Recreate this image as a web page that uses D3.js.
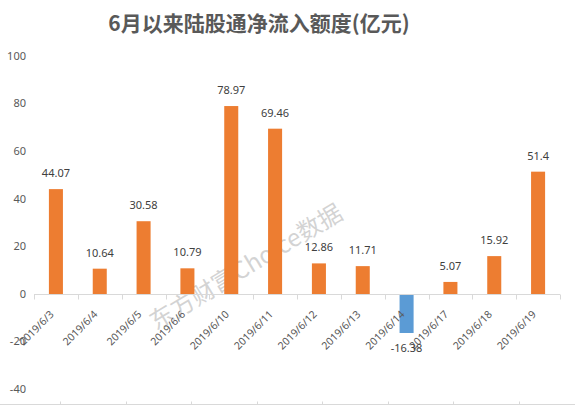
<!DOCTYPE html>
<html>
<head>
<meta charset="utf-8">
<script src="https://cdn.jsdelivr.net/npm/d3@7"></script>
<style>
  body { margin: 0; background: #fff; }
  svg { display: block; }
</style>
</head>
<body>
<svg id="chart"></svg>
<script>
// data
const dates = ["2019/6/3", "2019/6/4", "2019/6/5", "2019/6/6", "2019/6/10", "2019/6/11",
               "2019/6/12", "2019/6/13", "2019/6/14", "2019/6/17", "2019/6/18", "2019/6/19"];
const inflows = [44.07, 10.64, 30.58, 10.79, 78.97, 69.46, 12.86, 11.71, -16.38, 5.07, 15.92, 51.4];
const yTicks = [-40, -20, 0, 20, 40, 60, 80, 100];

const width = 575, height = 406;
const margin = {top: 56, right: 15, bottom: 17, left: 34};

const svg = d3.select("#chart")
    .attr("width", width)
    .attr("height", height);

const font = "'Noto Sans', 'Noto Sans CJK SC', sans-serif";

// title
svg.append("text")
    .attr("x", 259)
    .attr("y", 31)
    .attr("text-anchor", "middle")
    .style("font-family", "'Noto Sans CJK SC', sans-serif")
    .style("font-size", "21px")
    .style("font-weight", "bold")
    .style("fill", "#595959")
    .text("6月以来陆股通净流入额度(亿元)");

const xScale = d3.scaleBand()
    .domain(dates)
    .range([margin.left, width - margin.right])
    .paddingInner(0.68)
    .paddingOuter(0.34);

const yScale = d3.scaleLinear()
    .domain([-40, 100])
    .range([389.2, 56]);

// watermark, behind the bars
svg.append("text")
    .attr("transform", "translate(246,267) rotate(-31)")
    .attr("text-anchor", "middle")
    .attr("dy", "0.35em")
    .style("font-family", "'Noto Sans CJK SC', sans-serif")
    .style("font-size", "24px")
    .style("fill", "#cccccc")
    .style("fill-opacity", 0.85)
    .text("东方财富Choice数据");

// y axis labels only (no line, no gridlines)
svg.append("g")
    .selectAll("text")
    .data(yTicks)
    .join("text")
        .attr("x", 26)
        .attr("y", d => yScale(d))
        .attr("dy", "0.35em")
        .attr("text-anchor", "end")
        .style("font-family", font)
        .style("font-size", "11px")
        .style("fill", "#595959")
        .text(d => d);

// bars
svg.append("g")
    .selectAll("rect")
    .data(inflows)
    .join("rect")
        .attr("x", (d, i) => xScale(dates[i]))
        .attr("y", d => yScale(Math.max(d, 0)))
        .attr("width", xScale.bandwidth())
        .attr("height", d => Math.abs(yScale(d) - yScale(0)))
        .style("fill", d => d < 0 ? "#5B9BD5" : "#ED7D31");

// x axis baseline at zero
const step = xScale.step();
const x0 = xScale.range()[0], x1 = xScale.range()[1];
const zeroY = Math.round(yScale(0)) + 0.5;
const axis = svg.append("g");
axis.append("line")
    .attr("x1", x0).attr("x2", x1)
    .attr("y1", zeroY).attr("y2", zeroY)
    .style("stroke", "#d9d9d9");
axis.selectAll(".tick")
    .data(d3.range(dates.length + 1))
    .join("line")
        .attr("class", "tick")
        .attr("x1", i => Math.round(x0 + i * step) + 0.5)
        .attr("x2", i => Math.round(x0 + i * step) + 0.5)
        .attr("y1", zeroY)
        .attr("y2", zeroY + 5)
        .style("stroke", "#d9d9d9");

// rotated category labels
svg.append("g")
    .selectAll("text")
    .data(dates)
    .join("text")
        .attr("transform", d => `translate(${xScale(d) + xScale.bandwidth() / 2 - 4},${zeroY + 18}) rotate(-45)`)
        .attr("text-anchor", "end")
        .attr("dy", "0.35em")
        .style("font-family", font)
        .style("font-size", "10.5px")
        .style("fill", "#595959")
        .text(d => d);

// value labels
svg.append("g")
    .selectAll("text")
    .data(inflows)
    .join("text")
        .attr("x", (d, i) => xScale(dates[i]) + xScale.bandwidth() / 2)
        .attr("y", d => d < 0 ? yScale(d) + 19 : yScale(d) - 12)
        .attr("text-anchor", "middle")
        .style("font-family", font)
        .style("font-size", "11px")
        .style("fill", "#404040")
        .text(d => d);

// edge of the next panel at the bottom, with its tick marks
const bottomY = 404.5;
const panelX = d3.scaleLinear().domain([0, 8]).range([-5.6, 519]);
svg.append("line")
    .attr("x1", 0).attr("x2", width)
    .attr("y1", bottomY).attr("y2", bottomY)
    .style("stroke", "#d9d9d9");
svg.append("g")
    .selectAll("line")
    .data(d3.range(1, 9))
    .join("line")
        .attr("x1", i => Math.round(panelX(i)) + 0.5)
        .attr("x2", i => Math.round(panelX(i)) + 0.5)
        .attr("y1", bottomY)
        .attr("y2", bottomY - 3)
        .style("stroke", "#d9d9d9");
</script>
</body>
</html>
